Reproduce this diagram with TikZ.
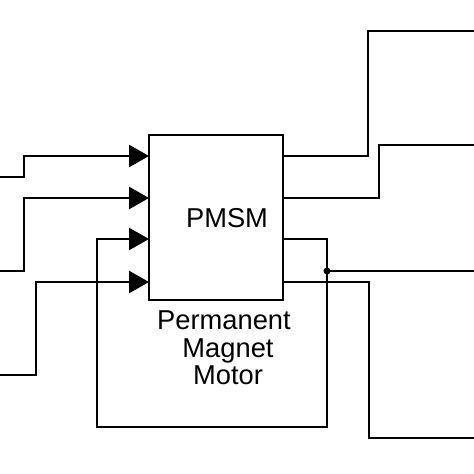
\documentclass[tikz,border=0pt]{standalone}
\usepackage{fontspec}
\setmainfont{Liberation Sans}
\usetikzlibrary{arrows.meta}
\begin{document}
\begin{tikzpicture}[x=1pt,y=-1pt,
  wire/.style={line width=2.6pt, line join=miter},
  inarrow/.style={wire,-{Triangle[length=20pt,width=22pt]}},
  block/.style={draw, line width=2.6pt, minimum width=134pt, minimum height=165pt, inner sep=0pt, outer sep=0pt, anchor=north west},
  lbl/.style={font=\fontsize{27.3}{27}\selectfont, inner sep=0pt, anchor=base}]
\useasboundingbox (0,0) rectangle (474,474);
\node[block] (m) at (149,135) {};
\node[lbl] (t0) at (227,227) {PMSM};
\node[lbl] (t1) at (224,329) {Permanent};
\node[lbl] (t2) at (228,357) {Magnet};
\node[lbl] (t3) at (228,384) {Motor};
% free ends
\coordinate (a1) at (0,177);
\coordinate (a2) at (0,271);
\coordinate (a4) at (0,375);
\coordinate (b1) at (474,31);
\coordinate (b2) at (474,145);
\coordinate (b3) at (474,271);
\coordinate (b4) at (474,438);
\coordinate (j) at (327,271);
% inputs
\draw[inarrow] (a1) -- (24,177) -- (24,156) -- (m.west |- 0,156);
\draw[inarrow] (a2) -- (24,271) -- (24,198) -- (m.west |- 0,198);
\draw[inarrow] (a4) -- (36,375) -- (36,282) -- (m.west |- 0,282);
% feedback loop
\draw[inarrow] (m.east |- 0,239) -- (327,239) -- (327,427) -- (97,427) -- (97,239) -- (m.west |- 0,239);
% outputs
\draw[wire] (m.east |- 0,156) -- (368,156) -- (368,31) -- (b1);
\draw[wire] (m.east |- 0,198) -- (379,198) -- (379,145) -- (b2);
\fill (j) circle (3.5pt);
\draw[wire] (j) -- (b3);
\draw[wire] (m.east |- 0,282) -- (369,282) -- (369,438) -- (b4);
\end{tikzpicture}
\end{document}
